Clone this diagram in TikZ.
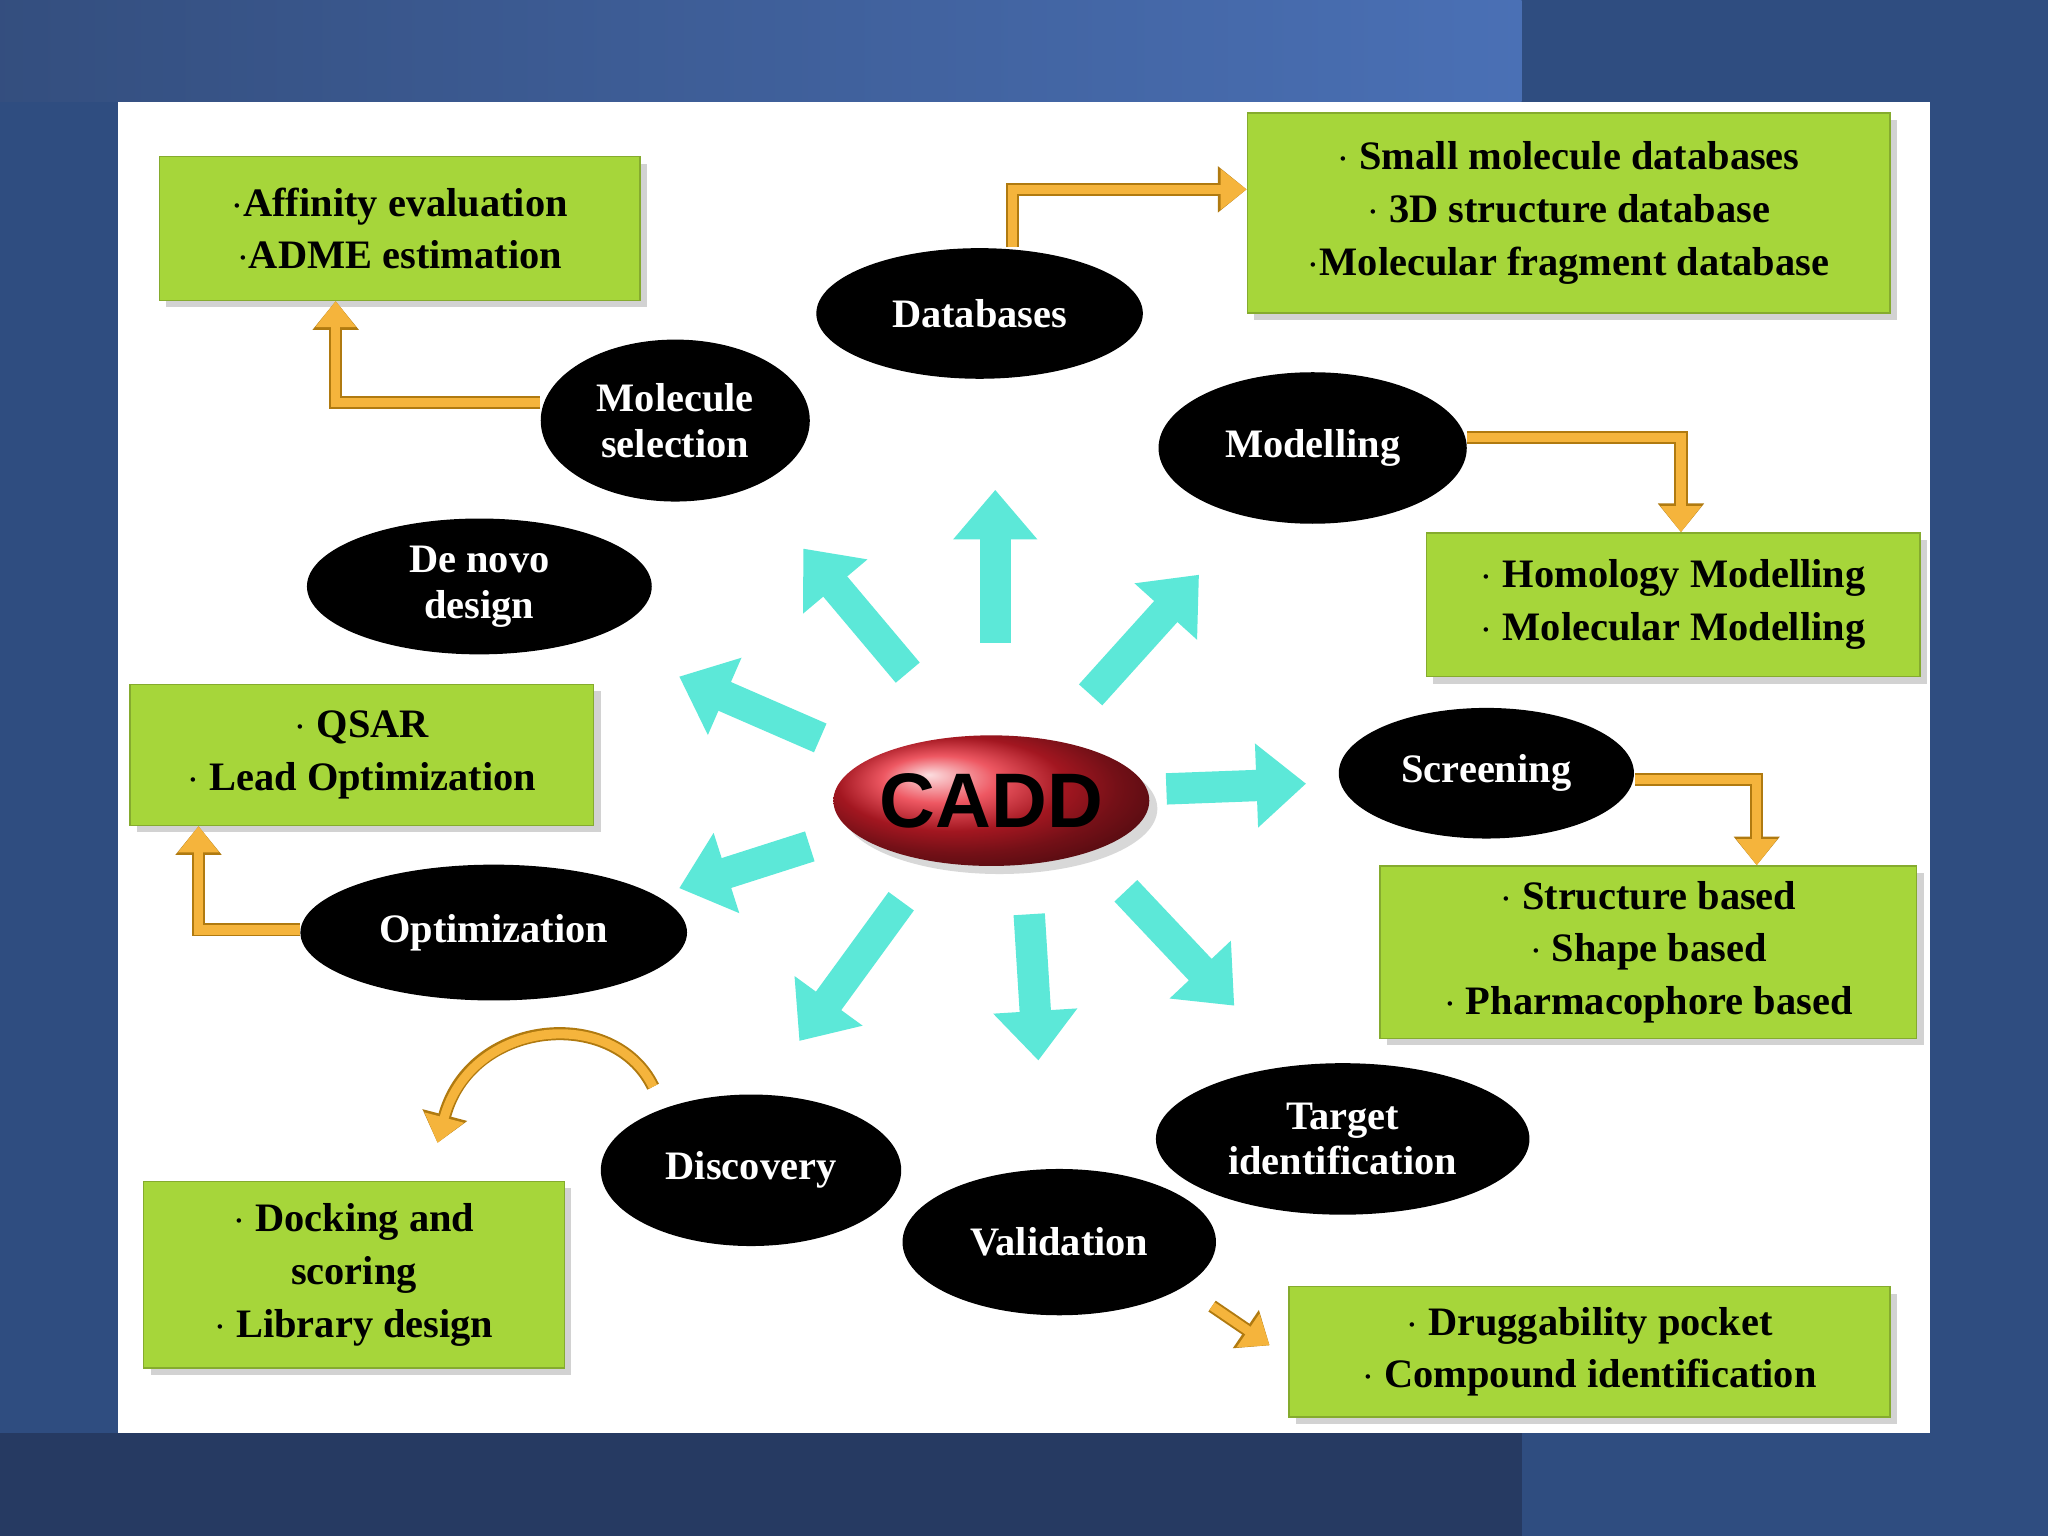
\documentclass[tikz,border=0pt]{standalone}
\usepackage{fontspec}
\setmainfont{Liberation Serif}
\newfontfamily\sansf{Liberation Sans}
\usetikzlibrary{shapes.geometric,arrows.meta,shadows}
\definecolor{bgA}{HTML}{2F4D80}
\definecolor{bgTop}{HTML}{4A70B5}
\definecolor{bgBot}{HTML}{263A62}
\definecolor{gbox}{HTML}{A6D63A}
\definecolor{cyanA}{HTML}{5CE8D8}
\definecolor{orA}{HTML}{F5B43C}
\definecolor{orB}{HTML}{B07A10}
\definecolor{caddR}{HTML}{E8202E}
\def\u{0.01306cm}
\begin{document}
\begin{tikzpicture}[x=0.01306cm,y=-0.01306cm,
  gb/.style={fill=gbox,draw=gbox!80!black,line width=0.4pt,align=center,font=\bfseries\fontsize{11.5}{15}\selectfont,drop shadow={opacity=0.35,shadow xshift=2pt,shadow yshift=-2pt}},
  el/.style={ellipse,fill=black,text=white,align=center,font=\bfseries\fontsize{11.5}{13}\selectfont,inner sep=0pt},
  ca/.style={draw=cyanA,line width={24*\u},-{Triangle[length={38*\u},width={62*\u}]}},
  oa/.style={draw=orA,line width={7*\u},-{Triangle[length={20*\u},width={30*\u}]},preaction={draw=orB,line width={10*\u},-{Triangle[length={22*\u},width={34*\u}]}}}]
\useasboundingbox (0,0) rectangle (1568,1176);
\fill[bgA] (0,0) rectangle (1568,1176);
\shade[left color=bgTop!70!black,right color=bgTop] (0,0) rectangle (1165,78);
\fill[bgBot] (0,1097) rectangle (1165,1176);
\fill[white] (90,78) rectangle (1478,1097);
% boxes
\node[gb,minimum width={368*\u},minimum height={110*\u}] (b1) at (306,175) {$\cdot$Affinity evaluation\\$\cdot$ADME estimation};
\node[gb,minimum width={492*\u},minimum height={153*\u}] (b2) at (1201,163) {$\cdot$ Small molecule databases\\$\cdot$ 3D structure database\\$\cdot$Molecular fragment database};
\node[gb,minimum width={378*\u},minimum height={110*\u}] (b3) at (1281,463) {$\cdot$ Homology Modelling\\$\cdot$ Molecular Modelling};
\node[gb,minimum width={355*\u},minimum height={108*\u}] (b4) at (277,578) {$\cdot$ QSAR\\$\cdot$ Lead Optimization};
\node[gb,minimum width={411*\u},minimum height={132*\u}] (b5) at (1262,729) {$\cdot$ Structure based\\$\cdot$ Shape based\\$\cdot$ Pharmacophore based};
\node[gb,minimum width={322*\u},minimum height={143*\u}] (b6) at (271,976) {$\cdot$ Docking and\\scoring\\$\cdot$ Library design};
\node[gb,minimum width={460*\u},minimum height={100*\u}] (b7) at (1217,1035) {$\cdot$ Druggability pocket\\$\cdot$ Compound identification};
% ellipses
\node[el,minimum width={250*\u},minimum height={100*\u}] (db) at (750,240) {Databases};
\node[el,minimum width={206*\u},minimum height={124*\u}] (ms) at (517,322) {Molecule\\selection};
\node[el,minimum width={236*\u},minimum height={116*\u}] (mo) at (1005,343) {Modelling};
\node[el,minimum width={264*\u},minimum height={104*\u}] (dn) at (367,449) {De novo\\design};
\node[el,minimum width={226*\u},minimum height={100*\u}] (sc) at (1138,592) {Screening};
\node[el,minimum width={296*\u},minimum height={104*\u}] (op) at (378,714) {Optimization};
\node[el,minimum width={286*\u},minimum height={116*\u}] (ti) at (1028,872) {Target\\identification};
\node[el,minimum width={230*\u},minimum height={116*\u}] (di) at (575,896) {Discovery};
\node[el,minimum width={240*\u},minimum height={112*\u}] (va) at (811,951) {Validation};
\node[ellipse,minimum width={236*\u},minimum height={100*\u},inner sep=0pt,
  ball color=caddR,font=\sansf\bfseries\fontsize{22}{24}\selectfont,drop shadow={opacity=0.3}] (cadd) at (759,613) {CADD};
% cyan arrows
\coordinate (c1s) at (762,492); \coordinate (c1e) at (762,375);
\coordinate (c2s) at (695,515); \coordinate (c2e) at (615,420);
\coordinate (c3s) at (835,532); \coordinate (c3e) at (918,440);
\coordinate (c4s) at (628,565); \coordinate (c4e) at (520,518);
\coordinate (c5s) at (893,604); \coordinate (c5e) at (1000,600);
\coordinate (c6s) at (620,648); \coordinate (c6e) at (520,680);
\coordinate (c7s) at (690,690); \coordinate (c7e) at (612,797);
\coordinate (c8s) at (788,700); \coordinate (c8e) at (795,812);
\coordinate (c9s) at (862,682); \coordinate (c9e) at (945,770);
\foreach \i in {1,...,9} \draw[ca] (c\i s) -- (c\i e);
% orange arrows
\coordinate (o1) at (775,145);
\draw[oa] (db.north -| o1) -- (o1) -- (b2.west |- o1);
\coordinate (o2) at (257,308);
\draw[oa] (ms.west |- o2) -- (o2) -- (o2 |- b1.south);
\coordinate (o3) at (1287,335);
\draw[oa] (mo.east |- o3) -- (o3) -- (o3 |- b3.north);
\coordinate (o4) at (1345,597);
\draw[oa] (sc.east |- o4) -- (o4) -- (o4 |- b5.north);
\coordinate (o5) at (152,712);
\draw[oa] (op.west |- o5) -- (o5) -- (o5 |- b4.south);
\coordinate (o6s) at (500,832); \coordinate (o6e) at (335,875);
\draw[oa] (o6s) .. controls (470,770) and (360,780) .. (o6e);
\coordinate (o7s) at (928,1000); \coordinate (o7e) at (972,1030);
\draw[oa] (o7s) -- (o7e);
\end{tikzpicture}
\end{document}
